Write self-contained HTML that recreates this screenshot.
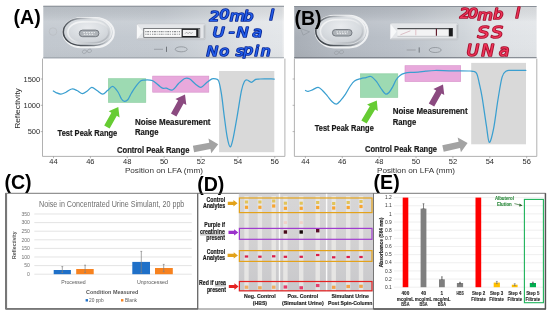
<!DOCTYPE html>
<html><head><meta charset="utf-8"><title>LFA figure</title>
<style>html,body{margin:0;padding:0;background:#fff;}body{width:550px;height:315px;overflow:hidden;}
svg{display:block;font-family:"Liberation Sans",Arial,sans-serif;}</style></head>
<body><svg width="550" height="315" viewBox="0 0 550 315">
<rect width="550" height="315" fill="#fff"/>
<text x="13.6" y="24" font-size="19.6" font-weight="bold" fill="#000">(A)</text>
<text x="4.4" y="189.2" font-size="19.6" font-weight="bold" fill="#000">(C)</text>
<text x="197.2" y="190.9" font-size="19.6" font-weight="bold" fill="#000">(D)</text>
<text x="373.6" y="189.4" font-size="19.6" font-weight="bold" fill="#000">(E)</text>
<defs><filter id="bl1" x="-20%" y="-20%" width="140%" height="140%"><feGaussianBlur stdDeviation="1.2"/></filter><filter id="bl05"><feGaussianBlur stdDeviation="0.45"/></filter><radialGradient id="ovg" cx="0.5" cy="0.35" r="0.65"><stop offset="0" stop-color="#e9ebee"/><stop offset="0.5" stop-color="#d9dde1"/><stop offset="0.85" stop-color="#cdd1d6"/><stop offset="1" stop-color="#e4e7ea"/></radialGradient><linearGradient id="rim2" x1="0" y1="0" x2="1" y2="1"><stop offset="0" stop-color="#ffffff"/><stop offset="0.5" stop-color="#e8eaec"/><stop offset="1" stop-color="#9aa0a7"/></linearGradient><linearGradient id="rimg" x1="0" y1="0.75" x2="1" y2="0.25"><stop offset="0" stop-color="#3c4147"/><stop offset="0.3" stop-color="#5d636a"/><stop offset="0.6" stop-color="#a9aeb4"/><stop offset="0.8" stop-color="#e0e3e6"/><stop offset="1" stop-color="#f4f5f6"/></linearGradient></defs>
<defs><linearGradient id="pa" x1="0" y1="0" x2="1" y2="0"><stop offset="0" stop-color="#c2c8cf"/><stop offset="0.5" stop-color="#c4cad1"/><stop offset="0.72" stop-color="#d3d8dd"/><stop offset="0.85" stop-color="#e0e3e7"/><stop offset="0.99" stop-color="#e3e6e9"/><stop offset="1" stop-color="#f0f1f2"/></linearGradient><linearGradient id="pav" x1="0" y1="0" x2="0" y2="1"><stop offset="0" stop-color="#000" stop-opacity="0.06"/><stop offset="0.3" stop-color="#fff" stop-opacity="0.12"/><stop offset="0.6" stop-color="#fff" stop-opacity="0"/><stop offset="1" stop-color="#000" stop-opacity="0.03"/></linearGradient></defs>
<rect x="43.3" y="5.8" width="240.7" height="52.8" fill="url(#pa)"/>
<rect x="43.3" y="5.8" width="240.7" height="52.8" fill="url(#pav)"/>
<line x1="43.3" y1="6.3" x2="284" y2="6.3" stroke="#8a9098" stroke-width="1"/>
<line x1="43.3" y1="57.6" x2="284" y2="57.6" stroke="#9ba1a8" stroke-width="0.8"/>
<circle cx="53" cy="31.6" r="3.8" fill="none" stroke="#b7bbc0" stroke-width="0.6"/>
<rect x="63.3" y="18" width="50.4" height="29.2" rx="18.14" ry="14.6" fill="none" stroke="#f6f7f8" stroke-width="2.2" opacity="0.9" filter="url(#bl05)"/>
<rect x="62.7" y="18" width="49.2" height="28" rx="17.71" ry="14" fill="url(#ovg)"/>
<rect x="63.3" y="18.6" width="48" height="26.8" rx="17.28" ry="13.4" fill="none" stroke="url(#rimg)" stroke-width="1.5"/>
<rect x="67.9" y="21.9" width="40.8" height="20.8" rx="14.69" ry="10.4" fill="none" stroke="url(#rim2)" stroke-width="1.6" opacity="0.8" filter="url(#bl05)"/>
<rect x="79.3" y="30.1" width="19.6" height="6.6" rx="3.3" fill="#aeb3b8" stroke="#6c7278" stroke-width="0.9"/>
<path d="M83.3,32.6 h11.6 M83.8,34.3 h10.6" stroke="#eef0f2" stroke-width="1" stroke-dasharray="1.6 1" fill="none"/>
<rect x="136.5" y="23.8" width="69.1" height="16" rx="1.8" fill="#e4e6e9" stroke="#bfc3c8" stroke-width="0.6"/>
<rect x="137.5" y="38.2" width="67.1" height="1.4" fill="#b6bbc0" opacity="0.7"/>
<rect x="203.6" y="25.3" width="1.6" height="13" fill="#aeb3b8" opacity="0.8"/>
<path d="M136.9,24.6 L143,31.8 L136.9,39 Z" fill="#f7f8f9"/>
<rect x="143.8" y="28.6" width="56" height="8.7" fill="#fafafa" stroke="#4a4d51" stroke-width="0.7"/>
<path d="M145.3,31.6 h34.8 M145.3,34.3 h34.8" stroke="#8a8d90" stroke-width="1.1" stroke-dasharray="1.2 0.7 2 0.8 0.9 1.1" fill="none"/>
<rect x="181.6" y="28.6" width="17" height="8.7" fill="#1d1e20"/>
<rect x="182.8" y="29.9" width="13.4" height="6.1" fill="#f2f2f2"/>
<path d="M185.1,33.65 l1.5,-1.5 l1.5,1.5 l1.5,-1.5 l1.5,1.5 l1.5,-1.5" stroke="#777" stroke-width="0.6" fill="none"/>
<line x1="154" y1="49.3" x2="163" y2="49.3" stroke="#8c9197" stroke-width="0.7"/>
<line x1="166.5" y1="46.7" x2="166.5" y2="51.9" stroke="#6f747a" stroke-width="1"/>
<ellipse cx="181.2" cy="49.3" rx="6" ry="2.5" fill="none" stroke="#8c9197" stroke-width="0.8"/>
<path d="M86.9,51.3 c-2,-2.5 -5,-1 -4.5,1 c0.5,2 3.5,1.2 4.5,-1 c1,-2.2 4,-3 4.5,-1 c0.5,2 -2.5,3.5 -4.5,1 Z" fill="none" stroke="#9aa0a6" stroke-width="0.8"/>
<text transform="scale(1.12,1)" x="187.14 195.89 205.18 217.32 228.57 240.71" y="20.6 18.6 21 21 21 20" font-size="14" font-family="DejaVu Sans" font-style="oblique" fill="#2460ee" stroke="#0c2a98" stroke-width="1.7" stroke-linejoin="round" stroke-linecap="round" paint-order="stroke">20mb l</text>
<text transform="scale(1.12,1)" x="190 204.29 211.07 225.18" y="37 37 37 37" font-size="14.5" font-family="DejaVu Sans" font-style="oblique" fill="#2460ee" stroke="#0c2a98" stroke-width="1.7" stroke-linejoin="round" stroke-linecap="round" paint-order="stroke">U-Na</text>
<text transform="scale(1.12,1)" x="184.29 195.89 206.25 210.54 217.14 227.32 232.86" y="56 55.7 55.7 56.2 54.8 55.8 55.8" font-size="14" font-family="DejaVu Sans" font-style="oblique" fill="#2460ee" stroke="#0c2a98" stroke-width="1.7" stroke-linejoin="round" stroke-linecap="round" paint-order="stroke">No spin</text>
<defs><linearGradient id="pb" x1="0" y1="0" x2="1" y2="0"><stop offset="0" stop-color="#a8aeb6"/><stop offset="0.15" stop-color="#b3b9c1"/><stop offset="0.45" stop-color="#bcc2ca"/><stop offset="0.7" stop-color="#cfd4d9"/><stop offset="0.82" stop-color="#dfe2e6"/><stop offset="1" stop-color="#e2e5e8"/></linearGradient><linearGradient id="pbv" x1="0" y1="0" x2="0" y2="1"><stop offset="0" stop-color="#000" stop-opacity="0.06"/><stop offset="0.3" stop-color="#fff" stop-opacity="0.12"/><stop offset="0.6" stop-color="#fff" stop-opacity="0"/><stop offset="1" stop-color="#000" stop-opacity="0.03"/></linearGradient></defs>
<rect x="294.2" y="6" width="242.4" height="52.6" fill="url(#pb)"/>
<rect x="294.2" y="6" width="242.4" height="52.6" fill="url(#pbv)"/>
<line x1="294.2" y1="6.5" x2="536.6" y2="6.5" stroke="#8a9098" stroke-width="1"/>
<line x1="294.2" y1="57.6" x2="536.6" y2="57.6" stroke="#6a7077" stroke-width="0.8"/>
<rect x="315.8" y="15.8" width="51.8" height="31.6" rx="18.65" ry="15.8" fill="none" stroke="#f6f7f8" stroke-width="2.2" opacity="0.9" filter="url(#bl05)"/>
<rect x="315.2" y="15.8" width="50.6" height="30.4" rx="18.22" ry="15.2" fill="url(#ovg)"/>
<rect x="315.8" y="16.4" width="49.4" height="29.2" rx="17.78" ry="14.6" fill="none" stroke="url(#rimg)" stroke-width="1.5"/>
<rect x="320.4" y="19.7" width="42.2" height="23.2" rx="15.19" ry="11.6" fill="none" stroke="url(#rim2)" stroke-width="1.6" opacity="0.8" filter="url(#bl05)"/>
<rect x="332.4" y="29.5" width="19.6" height="6.5" rx="3.25" fill="#aeb3b8" stroke="#6c7278" stroke-width="0.9"/>
<path d="M336.4,31.95 h11.6 M336.9,33.65 h10.6" stroke="#eef0f2" stroke-width="1" stroke-dasharray="1.6 1" fill="none"/>
<rect x="390.1" y="23.1" width="68.4" height="16.9" rx="1.8" fill="#e4e6e9" stroke="#bfc3c8" stroke-width="0.6"/>
<rect x="391.1" y="38.4" width="66.4" height="1.4" fill="#b6bbc0" opacity="0.7"/>
<rect x="456.5" y="24.6" width="1.6" height="13.9" fill="#aeb3b8" opacity="0.8"/>
<path d="M390.5,23.9 L396.6,31.55 L390.5,39.2 Z" fill="#f7f8f9"/>
<rect x="397.4" y="28.3" width="55.4" height="8" fill="#f3f3f4"/>
<line x1="397.4" y1="28.7" x2="452.8" y2="28.7" stroke="#2c2e31" stroke-width="1"/>
<line x1="397.4" y1="36.3" x2="452.8" y2="36.3" stroke="#a9adb2" stroke-width="0.6"/>
<path d="M400.4,34.8 L410.4,30.8" stroke="#c99aa6" stroke-width="0.6"/>
<line x1="415.8" y1="29.3" x2="415.8" y2="35.3" stroke="#d7aab4" stroke-width="0.7"/>
<line x1="436.4" y1="28.8" x2="436.4" y2="35.8" stroke="#5a1020" stroke-width="1.1"/>
<rect x="448.8" y="28.3" width="4" height="8" fill="#1b1b1d"/>
<line x1="406.7" y1="50" x2="415.7" y2="50" stroke="#8c9197" stroke-width="0.7"/>
<line x1="419.2" y1="47.4" x2="419.2" y2="52.6" stroke="#6f747a" stroke-width="1"/>
<ellipse cx="435.2" cy="50" rx="6" ry="2.5" fill="none" stroke="#8c9197" stroke-width="0.8"/>
<path d="M339,52.4 c-2,-2.5 -5,-1 -4.5,1 c0.5,2 3.5,1.2 4.5,-1 c1,-2.2 4,-3 4.5,-1 c0.5,2 -2.5,3.5 -4.5,1 Z" fill="none" stroke="#9aa0a6" stroke-width="0.8"/>
<text transform="scale(1.12,1)" x="410.54 417.86 426.43 440.36 450.89 460.36" y="18.3 18.3 19.8 19 19 18" font-size="14" font-family="DejaVu Sans" font-style="oblique" fill="#ee3358" stroke="#a8122f" stroke-width="1.7" stroke-linejoin="round" stroke-linecap="round" paint-order="stroke">20mb l</text>
<text transform="scale(1.12,1)" x="426.25 438.57" y="38.4 38.4" font-size="16.5" font-family="DejaVu Sans" font-style="oblique" fill="#ee3358" stroke="#a8122f" stroke-width="1.7" stroke-linejoin="round" stroke-linecap="round" paint-order="stroke">SS</text>
<text transform="scale(1.12,1)" x="416.79 429.91 445.54" y="56.2 56.2 56.2" font-size="15" font-family="DejaVu Sans" font-style="oblique" fill="#ee3358" stroke="#a8122f" stroke-width="1.7" stroke-linejoin="round" stroke-linecap="round" paint-order="stroke">UNa</text>
<path d="M300.5,28.5 L309.5,31.8 L303.2,35.2 Z" fill="none" stroke="#8f959c" stroke-width="0.6"/>
<text x="294.4" y="24.6" font-size="19.6" font-weight="bold" fill="#000">(B)</text>
<rect x="108.4" y="78.7" width="37.4" height="23.7" fill="#9ddab2" stroke="#88cc9c" stroke-width="0.6"/>
<rect x="152.7" y="76.1" width="56.1" height="16.1" fill="#e8a9dc" stroke="#d690c9" stroke-width="0.6"/>
<rect x="219.1" y="71" width="55.2" height="81.2" fill="#d9d9d9"/>
<path d="M53.3,91 C53.75,91.27 54.73,92.08 56,92.6 C57.27,93.12 59.23,94.17 60.9,94.1 C62.57,94.03 64.18,93.05 66,92.2 C67.82,91.35 69.97,89.28 71.8,89 C73.63,88.72 75.23,89.72 77,90.5 C78.77,91.28 80.73,93.58 82.4,93.7 C84.07,93.82 85.43,92.25 87,91.2 C88.57,90.15 90.13,87.52 91.8,87.4 C93.47,87.28 95.18,89.38 97,90.5 C98.82,91.62 100.95,94.08 102.7,94.1 C104.45,94.12 105.83,91.9 107.5,90.6 C109.17,89.3 110.95,86.07 112.7,86.3 C114.45,86.53 116.53,89.88 118,92 C119.47,94.12 120.42,97.43 121.5,99 C122.58,100.57 123.42,101.32 124.5,101.4 C125.58,101.48 126.83,100.9 128,99.5 C129.17,98.1 130.25,95.12 131.5,93 C132.75,90.88 133.93,88.83 135.5,86.8 C137.07,84.77 139.4,81.92 140.9,80.8 C142.4,79.68 142.98,80.22 144.5,80.1 C146.02,79.98 148.63,80 150,80.1 C151.37,80.2 151.78,80.27 152.7,80.7 C153.62,81.13 154.28,81.73 155.5,82.7 C156.72,83.67 158.72,85.55 160,86.5 C161.28,87.45 162.15,88.13 163.2,88.4 C164.25,88.67 164.75,87.83 166.3,88.1 C167.85,88.37 170.45,90.77 172.5,90 C174.55,89.23 176.55,85.42 178.6,83.5 C180.65,81.58 182.98,79.28 184.8,78.5 C186.62,77.72 187.7,77.85 189.5,78.8 C191.3,79.75 193.68,82.78 195.6,84.2 C197.52,85.62 199.18,87.55 201,87.3 C202.82,87.05 204.68,84.12 206.5,82.7 C208.32,81.28 210.37,79.43 211.9,78.8 C213.43,78.17 214.58,78.55 215.7,78.9 C216.82,79.25 217.65,78.43 218.6,80.9 C219.55,83.37 220.45,87.75 221.4,93.7 C222.35,99.65 223.35,109.45 224.3,116.6 C225.25,123.75 226.15,131.57 227.1,136.6 C228.05,141.63 229.03,146.33 230,146.8 C230.97,147.27 231.72,144.43 232.9,139.4 C234.08,134.37 235.68,124.68 237.1,116.6 C238.52,108.52 240.2,96.72 241.4,90.9 C242.6,85.08 243.35,83.52 244.3,81.7 C245.25,79.88 245.92,79.9 247.1,80 C248.28,80.1 249.97,82.4 251.4,82.3 C252.83,82.2 254.27,79.95 255.7,79.4 C257.13,78.85 256.9,79.07 260,79 C263.1,78.93 271.92,79 274.3,79" fill="none" stroke="#3a9fd0" stroke-width="1.25" stroke-linejoin="round" stroke-linecap="round"/>
<path d="M42.5,58.6 V156.4 H284.9 V58.6" fill="none" stroke="#a8a8a8" stroke-width="0.9"/>
<line x1="53.5" y1="156.4" x2="53.5" y2="158.2" stroke="#888" stroke-width="0.6"/>
<text x="53.5" y="164.2" font-size="7.5" text-anchor="middle" fill="#2a2a2a">44</text>
<line x1="90.38" y1="156.4" x2="90.38" y2="158.2" stroke="#888" stroke-width="0.6"/>
<text x="90.38" y="164.2" font-size="7.5" text-anchor="middle" fill="#2a2a2a">46</text>
<line x1="127.26" y1="156.4" x2="127.26" y2="158.2" stroke="#888" stroke-width="0.6"/>
<text x="127.26" y="164.2" font-size="7.5" text-anchor="middle" fill="#2a2a2a">48</text>
<line x1="164.14" y1="156.4" x2="164.14" y2="158.2" stroke="#888" stroke-width="0.6"/>
<text x="164.14" y="164.2" font-size="7.5" text-anchor="middle" fill="#2a2a2a">50</text>
<line x1="201.02" y1="156.4" x2="201.02" y2="158.2" stroke="#888" stroke-width="0.6"/>
<text x="201.02" y="164.2" font-size="7.5" text-anchor="middle" fill="#2a2a2a">52</text>
<line x1="237.9" y1="156.4" x2="237.9" y2="158.2" stroke="#888" stroke-width="0.6"/>
<text x="237.9" y="164.2" font-size="7.5" text-anchor="middle" fill="#2a2a2a">54</text>
<line x1="274.78" y1="156.4" x2="274.78" y2="158.2" stroke="#888" stroke-width="0.6"/>
<text x="274.78" y="164.2" font-size="7.5" text-anchor="middle" fill="#2a2a2a">56</text>
<line x1="40.7" y1="79" x2="42.5" y2="79" stroke="#888" stroke-width="0.6"/>
<text x="40.2" y="81.65" font-size="7.5" text-anchor="end" fill="#2a2a2a">1500</text>
<line x1="40.7" y1="105.3" x2="42.5" y2="105.3" stroke="#888" stroke-width="0.6"/>
<text x="40.2" y="107.95" font-size="7.5" text-anchor="end" fill="#2a2a2a">1000</text>
<line x1="40.7" y1="131.6" x2="42.5" y2="131.6" stroke="#888" stroke-width="0.6"/>
<text x="40.2" y="134.25" font-size="7.5" text-anchor="end" fill="#2a2a2a">500</text>
<text x="57.6" y="136.4" font-size="8.8" font-weight="bold" fill="#1a1a1a" textLength="59.7" lengthAdjust="spacingAndGlyphs" stroke="#1a1a1a" stroke-width="0.2">Test Peak Range</text>
<text x="135" y="124.6" font-size="8.8" font-weight="bold" fill="#1a1a1a" textLength="75.5" lengthAdjust="spacingAndGlyphs" stroke="#1a1a1a" stroke-width="0.2">Noise Measurement</text>
<text x="135" y="134.6" font-size="8.8" font-weight="bold" fill="#1a1a1a" textLength="23.5" lengthAdjust="spacingAndGlyphs" stroke="#1a1a1a" stroke-width="0.2">Range</text>
<text x="117" y="153.3" font-size="8.8" font-weight="bold" fill="#1a1a1a" textLength="72.4" lengthAdjust="spacingAndGlyphs" stroke="#1a1a1a" stroke-width="0.2">Control Peak Range</text>
<rect x="360.4" y="73.8" width="37.4" height="23.6" fill="#9ddab2" stroke="#88cc9c" stroke-width="0.6"/>
<rect x="405" y="65.7" width="55.7" height="15.9" fill="#e8a9dc" stroke="#d690c9" stroke-width="0.6"/>
<rect x="471.2" y="62.9" width="54.8" height="81.4" fill="#d9d9d9"/>
<path d="M305.5,90.5 C305.95,90.65 306.95,91.55 308.2,91.4 C309.45,91.25 311.33,90.27 313,89.6 C314.67,88.93 316.62,87.25 318.2,87.4 C319.78,87.55 320.98,89.08 322.5,90.5 C324.02,91.92 325.72,94.07 327.3,95.9 C328.88,97.73 330.48,100.13 332,101.5 C333.52,102.87 334.98,104.25 336.4,104.1 C337.82,103.95 338.98,102.27 340.5,100.6 C342.02,98.93 343.92,96.45 345.5,94.1 C347.08,91.75 348.5,88.68 350,86.5 C351.5,84.32 352.68,82.32 354.5,81 C356.32,79.68 358.98,79.17 360.9,78.6 C362.82,78.03 364.33,77.95 366,77.6 C367.67,77.25 369.17,75.87 370.9,76.5 C372.63,77.13 374.72,79.4 376.4,81.4 C378.08,83.4 379.48,86.4 381,88.5 C382.52,90.6 384.17,93.33 385.5,94 C386.83,94.67 387.8,93.7 389,92.5 C390.2,91.3 391.53,88.88 392.7,86.8 C393.87,84.72 394.78,81.9 396,80 C397.22,78.1 398.5,76.53 400,75.4 C401.5,74.27 403.25,73.7 405,73.2 C406.75,72.7 408.3,72.58 410.5,72.4 C412.7,72.22 415.63,72.32 418.2,72.1 C420.77,71.88 423.07,71.37 425.9,71.1 C428.73,70.83 431.33,70.55 435.2,70.5 C439.07,70.45 444.98,70.75 449.1,70.8 C453.22,70.85 456.42,70.77 459.9,70.8 C463.38,70.83 467.65,70.88 470,71 C472.35,71.12 472.85,71 474,71.5 C475.15,72 476.03,72.08 476.9,74 C477.77,75.92 478.33,79.15 479.2,83 C480.07,86.85 480.9,89.98 482.1,97.1 C483.3,104.22 485.2,118.17 486.4,125.7 C487.6,133.23 488.1,141.82 489.3,142.3 C490.5,142.78 492.17,135.65 493.6,128.6 C495.03,121.55 496.48,108.58 497.9,100 C499.32,91.42 500.68,81.95 502.1,77.1 C503.52,72.25 504.75,72.02 506.4,70.9 C508.05,69.78 508.75,70.5 512,70.4 C515.25,70.3 523.58,70.32 525.9,70.3" fill="none" stroke="#3a9fd0" stroke-width="1.25" stroke-linejoin="round" stroke-linecap="round"/>
<path d="M294.4,58.6 V156.4 H536.8 V58.6" fill="none" stroke="#a8a8a8" stroke-width="0.9"/>
<line x1="305.4" y1="156.4" x2="305.4" y2="158.2" stroke="#888" stroke-width="0.6"/>
<text x="305.4" y="164.2" font-size="7.5" text-anchor="middle" fill="#2a2a2a">44</text>
<line x1="342.28" y1="156.4" x2="342.28" y2="158.2" stroke="#888" stroke-width="0.6"/>
<text x="342.28" y="164.2" font-size="7.5" text-anchor="middle" fill="#2a2a2a">46</text>
<line x1="379.16" y1="156.4" x2="379.16" y2="158.2" stroke="#888" stroke-width="0.6"/>
<text x="379.16" y="164.2" font-size="7.5" text-anchor="middle" fill="#2a2a2a">48</text>
<line x1="416.04" y1="156.4" x2="416.04" y2="158.2" stroke="#888" stroke-width="0.6"/>
<text x="416.04" y="164.2" font-size="7.5" text-anchor="middle" fill="#2a2a2a">50</text>
<line x1="452.92" y1="156.4" x2="452.92" y2="158.2" stroke="#888" stroke-width="0.6"/>
<text x="452.92" y="164.2" font-size="7.5" text-anchor="middle" fill="#2a2a2a">52</text>
<line x1="489.8" y1="156.4" x2="489.8" y2="158.2" stroke="#888" stroke-width="0.6"/>
<text x="489.8" y="164.2" font-size="7.5" text-anchor="middle" fill="#2a2a2a">54</text>
<line x1="526.68" y1="156.4" x2="526.68" y2="158.2" stroke="#888" stroke-width="0.6"/>
<text x="526.68" y="164.2" font-size="7.5" text-anchor="middle" fill="#2a2a2a">56</text>
<line x1="292.6" y1="79" x2="294.4" y2="79" stroke="#888" stroke-width="0.6"/>
<line x1="292.6" y1="105.3" x2="294.4" y2="105.3" stroke="#888" stroke-width="0.6"/>
<line x1="292.6" y1="131.6" x2="294.4" y2="131.6" stroke="#888" stroke-width="0.6"/>
<text x="314.8" y="131.1" font-size="8.8" font-weight="bold" fill="#1a1a1a" textLength="59" lengthAdjust="spacingAndGlyphs" stroke="#1a1a1a" stroke-width="0.2">Test Peak Range</text>
<text x="392.7" y="114.2" font-size="8.8" font-weight="bold" fill="#1a1a1a" textLength="74.9" lengthAdjust="spacingAndGlyphs" stroke="#1a1a1a" stroke-width="0.2">Noise Measurement</text>
<text x="392.7" y="124.9" font-size="8.8" font-weight="bold" fill="#1a1a1a" textLength="23.5" lengthAdjust="spacingAndGlyphs" stroke="#1a1a1a" stroke-width="0.2">Range</text>
<text x="365" y="152.2" font-size="8.8" font-weight="bold" fill="#1a1a1a" textLength="72.1" lengthAdjust="spacingAndGlyphs" stroke="#1a1a1a" stroke-width="0.2">Control Peak Range</text>
<text x="163.9" y="173.1" font-size="7.8" text-anchor="middle" fill="#333" textLength="78" lengthAdjust="spacingAndGlyphs">Position on LFA (mm)</text>
<text x="416" y="172.6" font-size="7.8" text-anchor="middle" fill="#333" textLength="78" lengthAdjust="spacingAndGlyphs">Position on LFA (mm)</text>
<text transform="translate(19.8,108.6) rotate(-90)" font-size="7.6" text-anchor="middle" fill="#2a2a2a" textLength="40.5" lengthAdjust="spacingAndGlyphs">Reflectivity</text>
<polygon points="109.6,128.53 116.8,115.82 119.54,117.38 118.3,106.9 108.67,111.21 111.41,112.76 104.2,125.47" fill="#66cc33"/>
<polygon points="176.41,116.5 183.59,103.54 186.35,105.06 185,94.6 175.41,99.01 178.17,100.53 170.99,113.5" fill="#8b4a80"/>
<polygon points="194.11,152.19 210.46,149.08 211.25,153.26 218.2,144.3 208.45,138.52 209.24,142.7 192.89,145.81" fill="#a3a3a3"/>
<polygon points="366.66,123.59 375.12,109.39 377.82,111 376.8,100.5 367.08,104.61 369.79,106.22 361.34,120.41" fill="#66cc33"/>
<polygon points="434.2,106.52 441.53,93.53 444.27,95.07 443,84.6 433.38,88.94 436.13,90.48 428.8,103.48" fill="#8b4a80"/>
<polygon points="443.71,151.67 460.01,148.03 460.94,152.17 467.6,143 457.67,137.54 458.6,141.68 442.29,145.33" fill="#a3a3a3"/>
<path d="M5.5,193.3 H545.6 V309 H5.5 Z" fill="none" stroke="#555" stroke-width="0.8"/>
<line x1="6.2" y1="193.3" x2="6.2" y2="309" stroke="#777" stroke-width="1.8"/>
<line x1="5.5" y1="308.8" x2="198" y2="308.8" stroke="#777" stroke-width="1.8"/>
<line x1="197.7" y1="193.3" x2="197.7" y2="309" stroke="#666" stroke-width="1.3"/>
<line x1="373.4" y1="193.3" x2="373.4" y2="309" stroke="#666" stroke-width="1"/>
<line x1="545.4" y1="193.3" x2="545.4" y2="309.5" stroke="#555" stroke-width="1.4"/>
<line x1="373.4" y1="309" x2="545.6" y2="309" stroke="#555" stroke-width="1.6"/>
<text x="111.7" y="206.8" font-size="8.2" text-anchor="middle" fill="#6e6e6e" textLength="145.3" lengthAdjust="spacingAndGlyphs">Noise in Concentrated Urine Simulant, 20 ppb</text>
<line x1="34.3" y1="274.2" x2="191.8" y2="274.2" stroke="#d9d9d9" stroke-width="0.7"/>
<text x="29.9" y="276" font-size="5.1" text-anchor="end" fill="#737373">0</text>
<line x1="34.3" y1="265.6" x2="191.8" y2="265.6" stroke="#d9d9d9" stroke-width="0.7"/>
<text x="29.9" y="267.4" font-size="5.1" text-anchor="end" fill="#737373">50</text>
<line x1="34.3" y1="257" x2="191.8" y2="257" stroke="#d9d9d9" stroke-width="0.7"/>
<text x="29.9" y="258.8" font-size="5.1" text-anchor="end" fill="#737373">100</text>
<line x1="34.3" y1="248.4" x2="191.8" y2="248.4" stroke="#d9d9d9" stroke-width="0.7"/>
<text x="29.9" y="250.2" font-size="5.1" text-anchor="end" fill="#737373">150</text>
<line x1="34.3" y1="239.8" x2="191.8" y2="239.8" stroke="#d9d9d9" stroke-width="0.7"/>
<text x="29.9" y="241.6" font-size="5.1" text-anchor="end" fill="#737373">200</text>
<line x1="34.3" y1="231.2" x2="191.8" y2="231.2" stroke="#d9d9d9" stroke-width="0.7"/>
<text x="29.9" y="233" font-size="5.1" text-anchor="end" fill="#737373">250</text>
<line x1="34.3" y1="222.6" x2="191.8" y2="222.6" stroke="#d9d9d9" stroke-width="0.7"/>
<text x="29.9" y="224.4" font-size="5.1" text-anchor="end" fill="#737373">300</text>
<line x1="34.3" y1="214" x2="191.8" y2="214" stroke="#d9d9d9" stroke-width="0.7"/>
<text x="29.9" y="215.8" font-size="5.1" text-anchor="end" fill="#737373">350</text>
<rect x="53.7" y="270" width="17.2" height="4.2" fill="#1f70c8"/>
<path d="M62.3,266.6 V272.5 M61.4,266.6 H63.2 M61.4,272.5 H63.2" stroke="#7f7f7f" stroke-width="0.7" fill="none"/>
<rect x="76.2" y="269" width="17.5" height="5.2" fill="#f7821f"/>
<path d="M85.1,265.2 V272.5 M84.2,265.2 H86 M84.2,272.5 H86" stroke="#7f7f7f" stroke-width="0.7" fill="none"/>
<rect x="132.3" y="261.9" width="17.7" height="12.3" fill="#1f70c8"/>
<path d="M141.3,251.4 V272.7 M140.4,251.4 H142.2 M140.4,272.7 H142.2" stroke="#7f7f7f" stroke-width="0.7" fill="none"/>
<rect x="155" y="268" width="17.8" height="6.2" fill="#f7821f"/>
<path d="M163.7,264.4 V271.7 M162.8,264.4 H164.6 M162.8,271.7 H164.6" stroke="#7f7f7f" stroke-width="0.7" fill="none"/>
<text x="73.5" y="284.2" font-size="6" text-anchor="middle" fill="#595959" textLength="24.4" lengthAdjust="spacingAndGlyphs">Processed</text>
<text x="152.4" y="284.4" font-size="6" text-anchor="middle" fill="#595959" textLength="31" lengthAdjust="spacingAndGlyphs">Unprocessed</text>
<text x="112.2" y="293.8" font-size="6.2" text-anchor="middle" font-weight="bold" fill="#595959" textLength="52.3" lengthAdjust="spacingAndGlyphs">Condition Measured</text>
<text transform="translate(16.2,245.2) rotate(-90)" font-size="5.4" font-weight="bold" text-anchor="middle" fill="#595959" textLength="27.6" lengthAdjust="spacingAndGlyphs">Reflectivity</text>
<rect x="85.6" y="299.1" width="2.4" height="2.4" fill="#1f70c8"/>
<text x="89" y="301.8" font-size="4.8" fill="#595959">20 ppb</text>
<rect x="121" y="299.1" width="2.4" height="2.4" fill="#f7821f"/>
<text x="125" y="301.8" font-size="4.8" fill="#595959">Blank</text>
<defs><linearGradient id="dbg" x1="0" y1="0" x2="0" y2="1"><stop offset="0" stop-color="#d7d6d7"/><stop offset="0.5" stop-color="#d2d1d2"/><stop offset="1" stop-color="#c8c8cb"/></linearGradient></defs>
<rect x="238.8" y="193.8" width="134.2" height="97.6" fill="url(#dbg)"/>
<rect x="244.3" y="196" width="4.4" height="95" fill="#ebeae8" opacity="0.85" filter="url(#bl05)"/>
<rect x="257.7" y="196" width="4.4" height="95" fill="#ebeae8" opacity="0.85" filter="url(#bl05)"/>
<rect x="271.5" y="196" width="4.4" height="95" fill="#ebeae8" opacity="0.85" filter="url(#bl05)"/>
<rect x="283.2" y="196" width="4.4" height="95" fill="#ebeae8" opacity="0.85" filter="url(#bl05)"/>
<rect x="299" y="196" width="4.4" height="95" fill="#ebeae8" opacity="0.85" filter="url(#bl05)"/>
<rect x="315.5" y="196" width="4.4" height="95" fill="#ebeae8" opacity="0.85" filter="url(#bl05)"/>
<rect x="331.5" y="196" width="4.4" height="95" fill="#ebeae8" opacity="0.85" filter="url(#bl05)"/>
<rect x="346" y="196" width="4.4" height="95" fill="#ebeae8" opacity="0.85" filter="url(#bl05)"/>
<rect x="358.8" y="196" width="4.4" height="95" fill="#ebeae8" opacity="0.85" filter="url(#bl05)"/>
<rect x="278.8" y="193.8" width="1.4" height="97.6" fill="#fafafa"/>
<rect x="325.9" y="193.8" width="1.4" height="97.6" fill="#fafafa"/>
<rect x="244.9" y="200.5" width="3.2" height="3" fill="#e2c45a"/>
<rect x="244.9" y="205.7" width="3.2" height="3.2" fill="#f7a531"/>
<rect x="258.3" y="200.5" width="3.2" height="3" fill="#e2c45a"/>
<rect x="258.3" y="205.7" width="3.2" height="3.2" fill="#f7a531"/>
<rect x="272.1" y="199.5" width="3.2" height="3" fill="#e2c45a"/>
<rect x="272.1" y="204.4" width="3.2" height="3.2" fill="#f7a531"/>
<rect x="283.8" y="201.7" width="3.2" height="3" fill="#e2c45a"/>
<rect x="283.8" y="206.7" width="3.2" height="3.2" fill="#f7a531"/>
<rect x="299.6" y="201.7" width="3.2" height="3" fill="#e2c45a"/>
<rect x="299.6" y="206.7" width="3.2" height="3.2" fill="#f7a531"/>
<rect x="316.1" y="201" width="3.2" height="3" fill="#e2c45a"/>
<rect x="316.1" y="205.9" width="3.2" height="3.2" fill="#f7a531"/>
<rect x="332.1" y="202" width="3.2" height="3" fill="#e2c45a"/>
<rect x="332.1" y="206.4" width="3.2" height="3.2" fill="#f7a531"/>
<rect x="346.6" y="201" width="3.2" height="3" fill="#e2c45a"/>
<rect x="346.6" y="205.9" width="3.2" height="3.2" fill="#f7a531"/>
<rect x="359.4" y="200" width="3.2" height="3" fill="#e2c45a"/>
<rect x="359.4" y="204.9" width="3.2" height="3.2" fill="#f7a531"/>
<rect x="283.8" y="221.2" width="3.2" height="2.8" fill="#f1d2c8"/>
<rect x="299.6" y="221.2" width="3.2" height="2.8" fill="#f1d2c8"/>
<rect x="283.7" y="230.3" width="3.4" height="3.4" fill="#4a0a1a"/>
<rect x="299.5" y="230.3" width="3.4" height="3.4" fill="#140808"/>
<rect x="316" y="229" width="3.4" height="3.4" fill="#5a0f2a"/>
<rect x="244.8" y="255.4" width="3.4" height="2.2" fill="#dc1e4a"/>
<rect x="258.2" y="255.6" width="3.4" height="2.2" fill="#dc1e4a"/>
<rect x="272" y="255.2" width="3.4" height="2.2" fill="#dc1e4a"/>
<rect x="283.7" y="255.7" width="3.4" height="2.2" fill="#dc1e4a"/>
<rect x="299.5" y="255.7" width="3.4" height="2.2" fill="#dc1e4a"/>
<rect x="316" y="253.9" width="3.4" height="2.2" fill="#dc1e4a"/>
<rect x="332" y="256.2" width="3.4" height="2.2" fill="#dc1e4a"/>
<rect x="346.5" y="255.9" width="3.4" height="2.2" fill="#dc1e4a"/>
<rect x="359.3" y="255.9" width="3.4" height="2.2" fill="#dc1e4a"/>
<rect x="244.7" y="285.6" width="3.6" height="3.2" fill="#efb067"/>
<rect x="258.1" y="286.2" width="3.6" height="3.2" fill="#efaa5c"/>
<rect x="271.9" y="285.6" width="3.6" height="3.2" fill="#efae63"/>
<rect x="283.6" y="285.4" width="3.6" height="3.2" fill="#e63a6a"/>
<rect x="299.4" y="286.2" width="3.6" height="3.2" fill="#e63a6a"/>
<rect x="315.9" y="283.9" width="3.6" height="3.2" fill="#e23f6c"/>
<rect x="331.9" y="285.7" width="3.6" height="3.2" fill="#f2a24a"/>
<rect x="346.4" y="284.9" width="3.6" height="3.2" fill="#f2a24a"/>
<rect x="359.2" y="284.7" width="3.6" height="3.2" fill="#f2a24a"/>
<rect x="239.4" y="198" width="132.6" height="14.6" fill="none" stroke="#e3a21a" stroke-width="1.2"/>
<rect x="239.4" y="228.4" width="132.6" height="10.9" fill="none" stroke="#a03ccf" stroke-width="1.2"/>
<rect x="239.4" y="250.6" width="132.6" height="10.8" fill="none" stroke="#e3a21a" stroke-width="1.2"/>
<rect x="239.4" y="281.5" width="132.6" height="9.3" fill="none" stroke="#e52222" stroke-width="1.2"/>
<text x="225.1" y="201.7" font-size="6.3" text-anchor="end" font-weight="bold" fill="#1a1a1a" textLength="18.5" lengthAdjust="spacingAndGlyphs" stroke="#1a1a1a" stroke-width="0.18">Control</text>
<text x="225.1" y="208.4" font-size="6.3" text-anchor="end" font-weight="bold" fill="#1a1a1a" textLength="22.2" lengthAdjust="spacingAndGlyphs" stroke="#1a1a1a" stroke-width="0.18">Analytes</text>
<text x="224.9" y="227" font-size="6.3" text-anchor="end" font-weight="bold" fill="#1a1a1a" textLength="20.7" lengthAdjust="spacingAndGlyphs" stroke="#1a1a1a" stroke-width="0.18">Purple if</text>
<text x="224.9" y="233.6" font-size="6.3" text-anchor="end" font-weight="bold" fill="#1a1a1a" textLength="24.9" lengthAdjust="spacingAndGlyphs" stroke="#1a1a1a" stroke-width="0.18">creatinine</text>
<text x="224.9" y="240.1" font-size="6.3" text-anchor="end" font-weight="bold" fill="#1a1a1a" textLength="18.6" lengthAdjust="spacingAndGlyphs" stroke="#1a1a1a" stroke-width="0.18">present</text>
<line x1="200.1" y1="234.9" x2="224.9" y2="234.9" stroke="#333" stroke-width="0.45"/>
<text x="225.1" y="253.9" font-size="6.3" text-anchor="end" font-weight="bold" fill="#1a1a1a" textLength="18.4" lengthAdjust="spacingAndGlyphs" stroke="#1a1a1a" stroke-width="0.18">Control</text>
<text x="225.1" y="260.2" font-size="6.3" text-anchor="end" font-weight="bold" fill="#1a1a1a" textLength="22.3" lengthAdjust="spacingAndGlyphs" stroke="#1a1a1a" stroke-width="0.18">Analytes</text>
<text x="226" y="284.9" font-size="6.3" text-anchor="end" font-weight="bold" fill="#1a1a1a" textLength="27" lengthAdjust="spacingAndGlyphs" stroke="#1a1a1a" stroke-width="0.18">Red if urea</text>
<text x="226" y="292.2" font-size="6.3" text-anchor="end" font-weight="bold" fill="#1a1a1a" textLength="19.1" lengthAdjust="spacingAndGlyphs" stroke="#1a1a1a" stroke-width="0.18">present</text>
<line x1="214.8" y1="285.9" x2="226" y2="285.9" stroke="#333" stroke-width="0.45"/>
<polygon points="227.8,204.9 233.4,204.9 233.4,206.5 237.6,203.3 233.4,200.1 233.4,201.7 227.8,201.7" fill="#e3a21a"/>
<polygon points="228.5,234 234.1,234 234.1,235.6 238.3,232.4 234.1,229.2 234.1,230.8 228.5,230.8" fill="#9b32cc"/>
<polygon points="227.6,257 233.7,257 233.7,258.6 237.9,255.4 233.7,252.2 233.7,253.8 227.6,253.8" fill="#e3a21a"/>
<polygon points="228.8,288.1 234.4,288.1 234.4,289.7 238.6,286.5 234.4,283.3 234.4,284.9 228.8,284.9" fill="#e52222"/>
<text x="259.9" y="297.6" font-size="6.1" text-anchor="middle" font-weight="bold" fill="#1a1a1a" textLength="31.6" lengthAdjust="spacingAndGlyphs" stroke="#1a1a1a" stroke-width="0.15">Neg. Control</text>
<text x="259.9" y="304.6" font-size="6.1" text-anchor="middle" font-weight="bold" fill="#1a1a1a" textLength="14.2" lengthAdjust="spacingAndGlyphs" stroke="#1a1a1a" stroke-width="0.15">(HBS)</text>
<text x="302.8" y="297.6" font-size="6.1" text-anchor="middle" font-weight="bold" fill="#1a1a1a" textLength="30.7" lengthAdjust="spacingAndGlyphs" stroke="#1a1a1a" stroke-width="0.15">Pos. Control</text>
<text x="302.8" y="304.6" font-size="6.1" text-anchor="middle" font-weight="bold" fill="#1a1a1a" textLength="41.8" lengthAdjust="spacingAndGlyphs" stroke="#1a1a1a" stroke-width="0.15">(Simulant Urine)</text>
<text x="350.2" y="297.6" font-size="6.1" text-anchor="middle" font-weight="bold" fill="#1a1a1a" textLength="37.4" lengthAdjust="spacingAndGlyphs" stroke="#1a1a1a" stroke-width="0.15">Simulant Urine</text>
<text x="350.2" y="304.6" font-size="6.1" text-anchor="middle" font-weight="bold" fill="#1a1a1a" textLength="44.4" lengthAdjust="spacingAndGlyphs" stroke="#1a1a1a" stroke-width="0.15">Post Spin-Column</text>
<line x1="394" y1="287.2" x2="543.5" y2="287.2" stroke="#e4e4e4" stroke-width="0.6"/>
<text x="391.8" y="288.9" font-size="4.9" text-anchor="end" fill="#333">0.1</text>
<line x1="394" y1="279.05" x2="543.5" y2="279.05" stroke="#e4e4e4" stroke-width="0.6"/>
<text x="391.8" y="280.75" font-size="4.9" text-anchor="end" fill="#333">0.2</text>
<line x1="394" y1="270.91" x2="543.5" y2="270.91" stroke="#e4e4e4" stroke-width="0.6"/>
<text x="391.8" y="272.61" font-size="4.9" text-anchor="end" fill="#333">0.3</text>
<line x1="394" y1="262.76" x2="543.5" y2="262.76" stroke="#e4e4e4" stroke-width="0.6"/>
<text x="391.8" y="264.46" font-size="4.9" text-anchor="end" fill="#333">0.4</text>
<line x1="394" y1="254.62" x2="543.5" y2="254.62" stroke="#e4e4e4" stroke-width="0.6"/>
<text x="391.8" y="256.32" font-size="4.9" text-anchor="end" fill="#333">0.5</text>
<line x1="394" y1="246.47" x2="543.5" y2="246.47" stroke="#e4e4e4" stroke-width="0.6"/>
<text x="391.8" y="248.17" font-size="4.9" text-anchor="end" fill="#333">0.6</text>
<line x1="394" y1="238.33" x2="543.5" y2="238.33" stroke="#e4e4e4" stroke-width="0.6"/>
<text x="391.8" y="240.03" font-size="4.9" text-anchor="end" fill="#333">0.7</text>
<line x1="394" y1="230.18" x2="543.5" y2="230.18" stroke="#e4e4e4" stroke-width="0.6"/>
<text x="391.8" y="231.88" font-size="4.9" text-anchor="end" fill="#333">0.8</text>
<line x1="394" y1="222.04" x2="543.5" y2="222.04" stroke="#e4e4e4" stroke-width="0.6"/>
<text x="391.8" y="223.74" font-size="4.9" text-anchor="end" fill="#333">0.9</text>
<line x1="394" y1="213.89" x2="543.5" y2="213.89" stroke="#e4e4e4" stroke-width="0.6"/>
<text x="391.8" y="215.59" font-size="4.9" text-anchor="end" fill="#333">1</text>
<line x1="394" y1="205.75" x2="543.5" y2="205.75" stroke="#e4e4e4" stroke-width="0.6"/>
<text x="391.8" y="207.45" font-size="4.9" text-anchor="end" fill="#333">1.1</text>
<line x1="394" y1="197.6" x2="543.5" y2="197.6" stroke="#e4e4e4" stroke-width="0.6"/>
<text x="391.8" y="199.3" font-size="4.9" text-anchor="end" fill="#333">1.2</text>
<text transform="translate(383,242.4) rotate(-90)" font-size="5.5" font-weight="bold" text-anchor="middle" fill="#222" stroke="#222" stroke-width="0.12" textLength="49.5" lengthAdjust="spacingAndGlyphs">Absorbance (564 nm)</text>
<rect x="402.7" y="197.6" width="5.6" height="89.6" fill="#ff0000"/>
<rect x="420.6" y="208.6" width="5.8" height="78.6" fill="#7f7f7f"/>
<path d="M423.5,203.8 V208.6 M422.6,203.8 H424.4 M422.6,208.6 H424.4" stroke="#555" stroke-width="0.7" fill="none"/>
<rect x="439" y="279.3" width="5.8" height="7.9" fill="#7f7f7f"/>
<path d="M441.9,276.9 V279.3 M441,276.9 H442.8 M441,279.3 H442.8" stroke="#555" stroke-width="0.7" fill="none"/>
<rect x="456.9" y="283" width="6.2" height="4.2" fill="#7f7f7f"/>
<path d="M460,282.3 V283.6 M459.1,282.3 H460.9 M459.1,283.6 H460.9" stroke="#555" stroke-width="0.7" fill="none"/>
<rect x="475.5" y="197.6" width="5.7" height="89.6" fill="#ff0000"/>
<rect x="493.7" y="282.6" width="6.2" height="4.6" fill="#ffc000"/>
<path d="M496.8,281.4 V283.6 M495.9,281.4 H497.7 M495.9,283.6 H497.7" stroke="#777" stroke-width="0.7" fill="none"/>
<rect x="511.8" y="284.7" width="5.8" height="2.5" fill="#ffc000"/>
<path d="M514.7,283.7 V285.6 M513.8,283.7 H515.6 M513.8,285.6 H515.6" stroke="#777" stroke-width="0.7" fill="none"/>
<rect x="529.8" y="283" width="6.2" height="4.2" fill="#00b050"/>
<path d="M532.9,282.2 V283.8 M532,282.2 H533.8 M532,283.8 H533.8" stroke="#555" stroke-width="0.7" fill="none"/>
<rect x="524.4" y="199.4" width="19" height="103.3" fill="none" stroke="#1db35a" stroke-width="1.1"/>
<text x="504.4" y="200.4" font-size="4.6" text-anchor="middle" font-weight="bold" fill="#2e8b3e" textLength="19" lengthAdjust="spacingAndGlyphs" stroke="#2e8b3e" stroke-width="0.1">Albuterol</text>
<text x="504.4" y="205.8" font-size="4.6" text-anchor="middle" font-weight="bold" fill="#2e8b3e" textLength="14.8" lengthAdjust="spacingAndGlyphs" stroke="#2e8b3e" stroke-width="0.1">Elution</text>
<path d="M514.4,203.6 L521.5,205.4" stroke="#2e6b2e" stroke-width="0.7"/><path d="M522.6,205.7 L519.6,203.4 L519.1,206.4 Z" fill="#2e6b2e"/>
<text x="405.4" y="295.1" font-size="4.7" text-anchor="middle" font-weight="bold" fill="#262626" stroke="#262626" stroke-width="0.1">400</text>
<text x="405.4" y="300.6" font-size="4.7" text-anchor="middle" font-weight="bold" fill="#262626" textLength="17.4" lengthAdjust="spacingAndGlyphs" stroke="#262626" stroke-width="0.1">mcg/mL</text>
<text x="405.4" y="306.1" font-size="4.7" text-anchor="middle" font-weight="bold" fill="#262626" textLength="8.2" lengthAdjust="spacingAndGlyphs" stroke="#262626" stroke-width="0.1">BSA</text>
<text x="423.5" y="295.1" font-size="4.7" text-anchor="middle" font-weight="bold" fill="#262626" stroke="#262626" stroke-width="0.1">40</text>
<text x="423.5" y="300.6" font-size="4.7" text-anchor="middle" font-weight="bold" fill="#262626" textLength="17.4" lengthAdjust="spacingAndGlyphs" stroke="#262626" stroke-width="0.1">mcg/mL</text>
<text x="423.5" y="306.1" font-size="4.7" text-anchor="middle" font-weight="bold" fill="#262626" textLength="8.2" lengthAdjust="spacingAndGlyphs" stroke="#262626" stroke-width="0.1">BSA</text>
<text x="441.9" y="295.1" font-size="4.7" text-anchor="middle" font-weight="bold" fill="#262626" stroke="#262626" stroke-width="0.1">1</text>
<text x="441.9" y="300.6" font-size="4.7" text-anchor="middle" font-weight="bold" fill="#262626" textLength="17.4" lengthAdjust="spacingAndGlyphs" stroke="#262626" stroke-width="0.1">mcg/mL</text>
<text x="441.9" y="306.1" font-size="4.7" text-anchor="middle" font-weight="bold" fill="#262626" textLength="8.2" lengthAdjust="spacingAndGlyphs" stroke="#262626" stroke-width="0.1">BSA</text>
<text x="460.2" y="295.1" font-size="4.7" text-anchor="middle" font-weight="bold" fill="#262626" textLength="7.2" lengthAdjust="spacingAndGlyphs" stroke="#262626" stroke-width="0.1">HBS</text>
<text x="478.6" y="295.1" font-size="4.7" text-anchor="middle" font-weight="bold" fill="#262626" textLength="13.3" lengthAdjust="spacingAndGlyphs" stroke="#262626" stroke-width="0.1">Step 2</text>
<text x="478.6" y="300.6" font-size="4.7" text-anchor="middle" font-weight="bold" fill="#262626" textLength="14.6" lengthAdjust="spacingAndGlyphs" stroke="#262626" stroke-width="0.1">Filtrate</text>
<text x="496.6" y="295.1" font-size="4.7" text-anchor="middle" font-weight="bold" fill="#262626" textLength="13.3" lengthAdjust="spacingAndGlyphs" stroke="#262626" stroke-width="0.1">Step 3</text>
<text x="496.6" y="300.6" font-size="4.7" text-anchor="middle" font-weight="bold" fill="#262626" textLength="14.6" lengthAdjust="spacingAndGlyphs" stroke="#262626" stroke-width="0.1">Filtrate</text>
<text x="514.8" y="295.1" font-size="4.7" text-anchor="middle" font-weight="bold" fill="#262626" textLength="13.3" lengthAdjust="spacingAndGlyphs" stroke="#262626" stroke-width="0.1">Step 4</text>
<text x="514.8" y="300.6" font-size="4.7" text-anchor="middle" font-weight="bold" fill="#262626" textLength="14.6" lengthAdjust="spacingAndGlyphs" stroke="#262626" stroke-width="0.1">Filtrate</text>
<text x="532.8" y="295.1" font-size="4.7" text-anchor="middle" font-weight="bold" fill="#262626" textLength="13.3" lengthAdjust="spacingAndGlyphs" stroke="#262626" stroke-width="0.1">Step 5</text>
<text x="532.8" y="300.6" font-size="4.7" text-anchor="middle" font-weight="bold" fill="#262626" textLength="14.6" lengthAdjust="spacingAndGlyphs" stroke="#262626" stroke-width="0.1">Filtrate</text>
</svg></body></html>
